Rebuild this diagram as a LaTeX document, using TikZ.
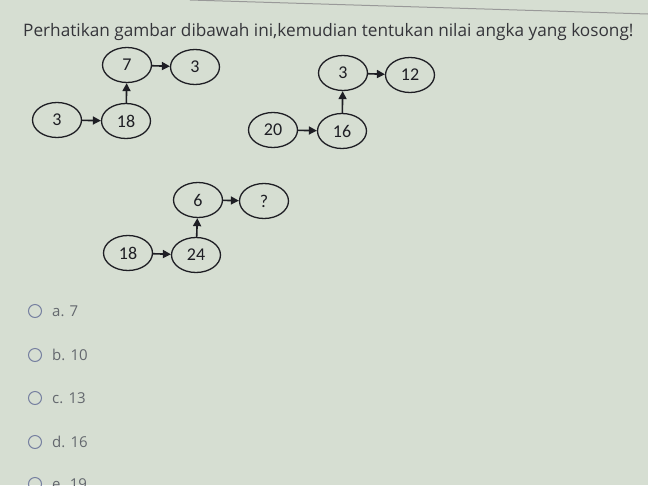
\documentclass[tikz,border=0pt]{standalone}
\usepackage{fontspec}
\setmainfont{Open Sans}
\newfontfamily\bubblefont{Carlito}
\usetikzlibrary{arrows.meta}
\usetikzlibrary{positioning}
\usetikzlibrary{shapes.geometric}
\definecolor{screen}{RGB}{214,222,210}
\definecolor{ink}{RGB}{30,30,36}
\definecolor{radioline}{RGB}{118,128,160}
\definecolor{optiontext}{RGB}{100,104,110}
\tikzset{
 bubble/.style={ellipse, draw=ink, line width=1.3pt, minimum width=49pt, minimum height=35pt, inner sep=0pt, text=ink, font=\bubblefont\fontsize{18}{18}\selectfont},
 link/.style={draw=ink, line width=1.6pt, -{Triangle[length=8pt,width=8pt]}},
 radio/.style={circle, draw=radioline, line width=1pt, minimum size=13pt, inner sep=0pt},
 option/.style={anchor=west, inner sep=0pt, text=optiontext, font=\fontsize{15}{15}\selectfont}
}
\begin{document}
\begin{tikzpicture}[x=1pt, y=-1pt]
\clip (0,0) rectangle (648,485);
\fill[screen] (0,0) rectangle (648,485);
\draw[gray!80, line width=1pt] (190,0) -- (648,14);
\node[anchor=base west, inner sep=0pt, text=ink!90, font=\fontsize{17.2}{17.2}\selectfont] (title) at (23,36)
 {Perhatikan gambar dibawah ini,kemudian tentukan nilai angka yang kosong!};

\node[bubble] (a1) at (57,120) {3};
\node[bubble] (a2) at (126,121) {18};
\node[bubble] (a3) at (127,65) {7};
\node[bubble] (a4) at (195,67) {3};
\draw[link] (a1) -- (a2);
\draw[link] (a2) -- (a3);
\draw[link] (a3) -- (a4);

\node[bubble] (b1) at (273,130) {20};
\node[bubble] (b2) at (342,131) {16};
\node[bubble] (b3) at (343,73) {3};
\node[bubble] (b4) at (410,75) {12};
\draw[link] (b1) -- (b2);
\draw[link] (b2) -- (b3);
\draw[link] (b3) -- (b4);

\node[bubble] (c1) at (128,253) {18};
\node[bubble] (c2) at (196,255) {24};
\node[bubble] (c3) at (198,200) {6};
\node[bubble] (c4) at (264,201) {?};
\draw[link] (c1) -- (c2);
\draw[link] (c2) -- (c3);
\draw[link] (c3) -- (c4);

\foreach \lbl/\yy [count=\i] in {a. 7/311, b. 10/355, c. 13/398, d. 16/442, e. 19/484} {
 \node[radio] (r\i) at (35,\yy) {};
 \node[option, right=10pt of r\i] (o\i) {\lbl};
}
\end{tikzpicture}
\end{document}
